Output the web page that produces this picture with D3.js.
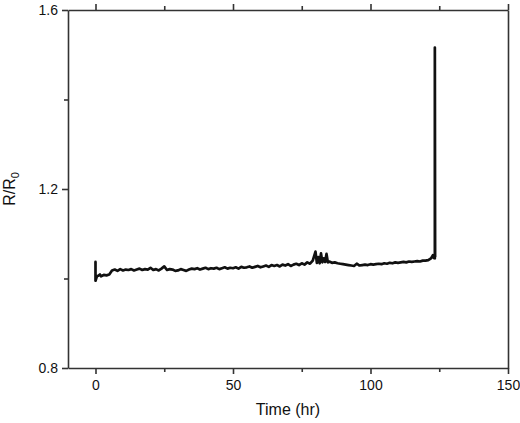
<!DOCTYPE html>
<html>
<head>
<meta charset="utf-8">
<script src="https://cdn.jsdelivr.net/npm/d3@7"></script>
<style>
  body { margin: 0; background: #fff; }
  text { font-family: "Liberation Sans", Arial, sans-serif; }
</style>
</head>
<body>
<svg id="chart"></svg>
<script>
// hours since start
const time_hr = [
  0, 0, 0, 0.5, 1, 1.6, 2, 3, 4, 5, 6, 7, 8, 9, 10, 11, 12, 13, 14, 15, 16, 17, 18, 19,
  20, 21, 22, 23, 24, 25, 26, 27, 28, 29, 30, 31, 32, 33, 34, 35, 36, 37, 38, 39,
  40, 41, 42, 43, 44, 45, 46, 47, 48, 49, 50, 51, 52, 53, 54, 55, 56, 57, 58, 59,
  60, 61, 62, 63, 64, 65, 66, 67, 68, 69, 70, 71, 72, 73, 74, 75, 76, 77, 78, 79,
  80, 80.5, 81, 81.5, 82, 82.5, 83, 83.5, 84, 84.5, 85, 86, 87, 88, 89,
  90, 91, 92, 93, 94, 95, 96, 97, 98, 99, 100, 101, 102, 103, 104, 105, 106, 107, 108, 109,
  110, 111, 112, 113, 114, 115, 116, 117, 118, 119, 120, 121, 122, 122.7, 123, 123.4, 123.4, 123.5
];

// normalised resistance R/R0
const ratio = [
  1.000, 1.037, 0.995, 1.005, 1.006, 1.009, 1.005, 1.008, 1.007, 1.009, 1.018, 1.020, 1.017, 1.021, 1.018, 1.020, 1.019, 1.021, 1.018, 1.020, 1.022, 1.019, 1.021, 1.020,
  1.024, 1.019, 1.021, 1.018, 1.022, 1.027, 1.019, 1.021, 1.020, 1.017, 1.018, 1.021, 1.019, 1.017, 1.020, 1.022, 1.021, 1.023, 1.020, 1.022,
  1.024, 1.021, 1.023, 1.022, 1.024, 1.021, 1.023, 1.025, 1.022, 1.024, 1.023, 1.025, 1.022, 1.026, 1.024, 1.025, 1.027, 1.024, 1.026, 1.028,
  1.025, 1.027, 1.029, 1.026, 1.030, 1.028, 1.030, 1.027, 1.031, 1.029, 1.032, 1.028, 1.031, 1.033, 1.030, 1.034, 1.031, 1.036, 1.033, 1.040,
  1.060, 1.035, 1.048, 1.034, 1.056, 1.036, 1.045, 1.037, 1.055, 1.036, 1.038, 1.035, 1.036, 1.034, 1.033,
  1.032, 1.031, 1.030, 1.029, 1.028, 1.033, 1.029, 1.030, 1.031, 1.030, 1.032, 1.031, 1.032, 1.033, 1.032, 1.034, 1.033, 1.035, 1.034, 1.036,
  1.035, 1.036, 1.037, 1.036, 1.038, 1.037, 1.038, 1.039, 1.038, 1.040, 1.040, 1.041, 1.045, 1.052, 1.046, 1.045, 1.516, 1.048
];

const x_major = [0, 50, 100, 150];
const x_minor = [25, 75, 125];
const y_major = [0.8, 1.2, 1.6];
const y_minor = [1.0, 1.4];

function create_chart() {
  const width = 520;
  const height = 423;
  const marginTop = 10;
  const marginRight = 12;
  const marginBottom = 55;
  const marginLeft = 68;
  const axisColor = "#333";

  const x = d3.scaleLinear([-10, 150], [marginLeft, width - marginRight]);
  const y = d3.scaleLinear([0.8, 1.6], [height - marginBottom, marginTop]);

  const svg = d3.select("svg#chart")
    .attr("width", width)
    .attr("height", height)
    .attr("viewBox", [0, 0, width, height]);

  const points = time_hr.map((t, i) => ({ t: t, r: ratio[i] }));

  const line = d3.line()
    .x(d => x(d.t))
    .y(d => y(d.r));

  svg.append("path")
    .attr("fill", "none")
    .attr("stroke", "#111")
    .attr("stroke-width", 2.7)
    .attr("stroke-linejoin", "round")
    .attr("d", line(points));

  // bottom axis with labels
  svg.append("g")
    .attr("transform", `translate(0,${height - marginBottom})`)
    .call(d3.axisBottom(x).tickValues(x_major).tickSize(6).tickSizeOuter(0).tickPadding(6))
    .call(g => g.selectAll(".tick text").attr("font-size", 14).attr("fill", "#111"));
  svg.append("g")
    .attr("transform", `translate(0,${height - marginBottom})`)
    .call(d3.axisBottom(x).tickValues(x_minor).tickSize(4).tickSizeOuter(0).tickFormat(""))
    .call(g => g.select(".domain").remove());

  // top axis, ticks only
  svg.append("g")
    .attr("transform", `translate(0,${marginTop})`)
    .call(d3.axisTop(x).tickValues(x_major).tickSize(6).tickSizeOuter(0).tickFormat(""));
  svg.append("g")
    .attr("transform", `translate(0,${marginTop})`)
    .call(d3.axisTop(x).tickValues(x_minor).tickSize(4).tickSizeOuter(0).tickFormat(""))
    .call(g => g.select(".domain").remove());

  // left axis with labels
  svg.append("g")
    .attr("transform", `translate(${marginLeft},0)`)
    .call(d3.axisLeft(y).tickValues(y_major).tickSize(6).tickSizeOuter(0).tickPadding(4).tickFormat(d3.format(".1f")))
    .call(g => g.selectAll(".tick text").attr("font-size", 14).attr("fill", "#111"));
  svg.append("g")
    .attr("transform", `translate(${marginLeft},0)`)
    .call(d3.axisLeft(y).tickValues(y_minor).tickSize(4).tickSizeOuter(0).tickFormat(""))
    .call(g => g.select(".domain").remove());

  // right axis, plain line
  svg.append("g")
    .attr("transform", `translate(${width - marginRight},0)`)
    .call(d3.axisRight(y).tickValues([]).tickSizeOuter(0));

  svg.selectAll(".domain, .tick line")
    .attr("stroke", axisColor)
    .attr("stroke-width", 1.6);

  // axis titles
  svg.append("text")
    .attr("x", (x(-10) + x(150)) / 2)
    .attr("y", 415)
    .attr("text-anchor", "middle")
    .attr("font-size", 16)
    .attr("fill", "#111")
    .text("Time (hr)");

  const yTitle = svg.append("text")
    .attr("transform", `translate(15,${y(1.2)}) rotate(-90)`)
    .attr("text-anchor", "middle")
    .attr("font-size", 16)
    .attr("fill", "#111");
  yTitle.append("tspan").text("R/R");
  yTitle.append("tspan").attr("font-size", 11).attr("dy", 4).text("0");
}

create_chart();
</script>
</body>
</html>
